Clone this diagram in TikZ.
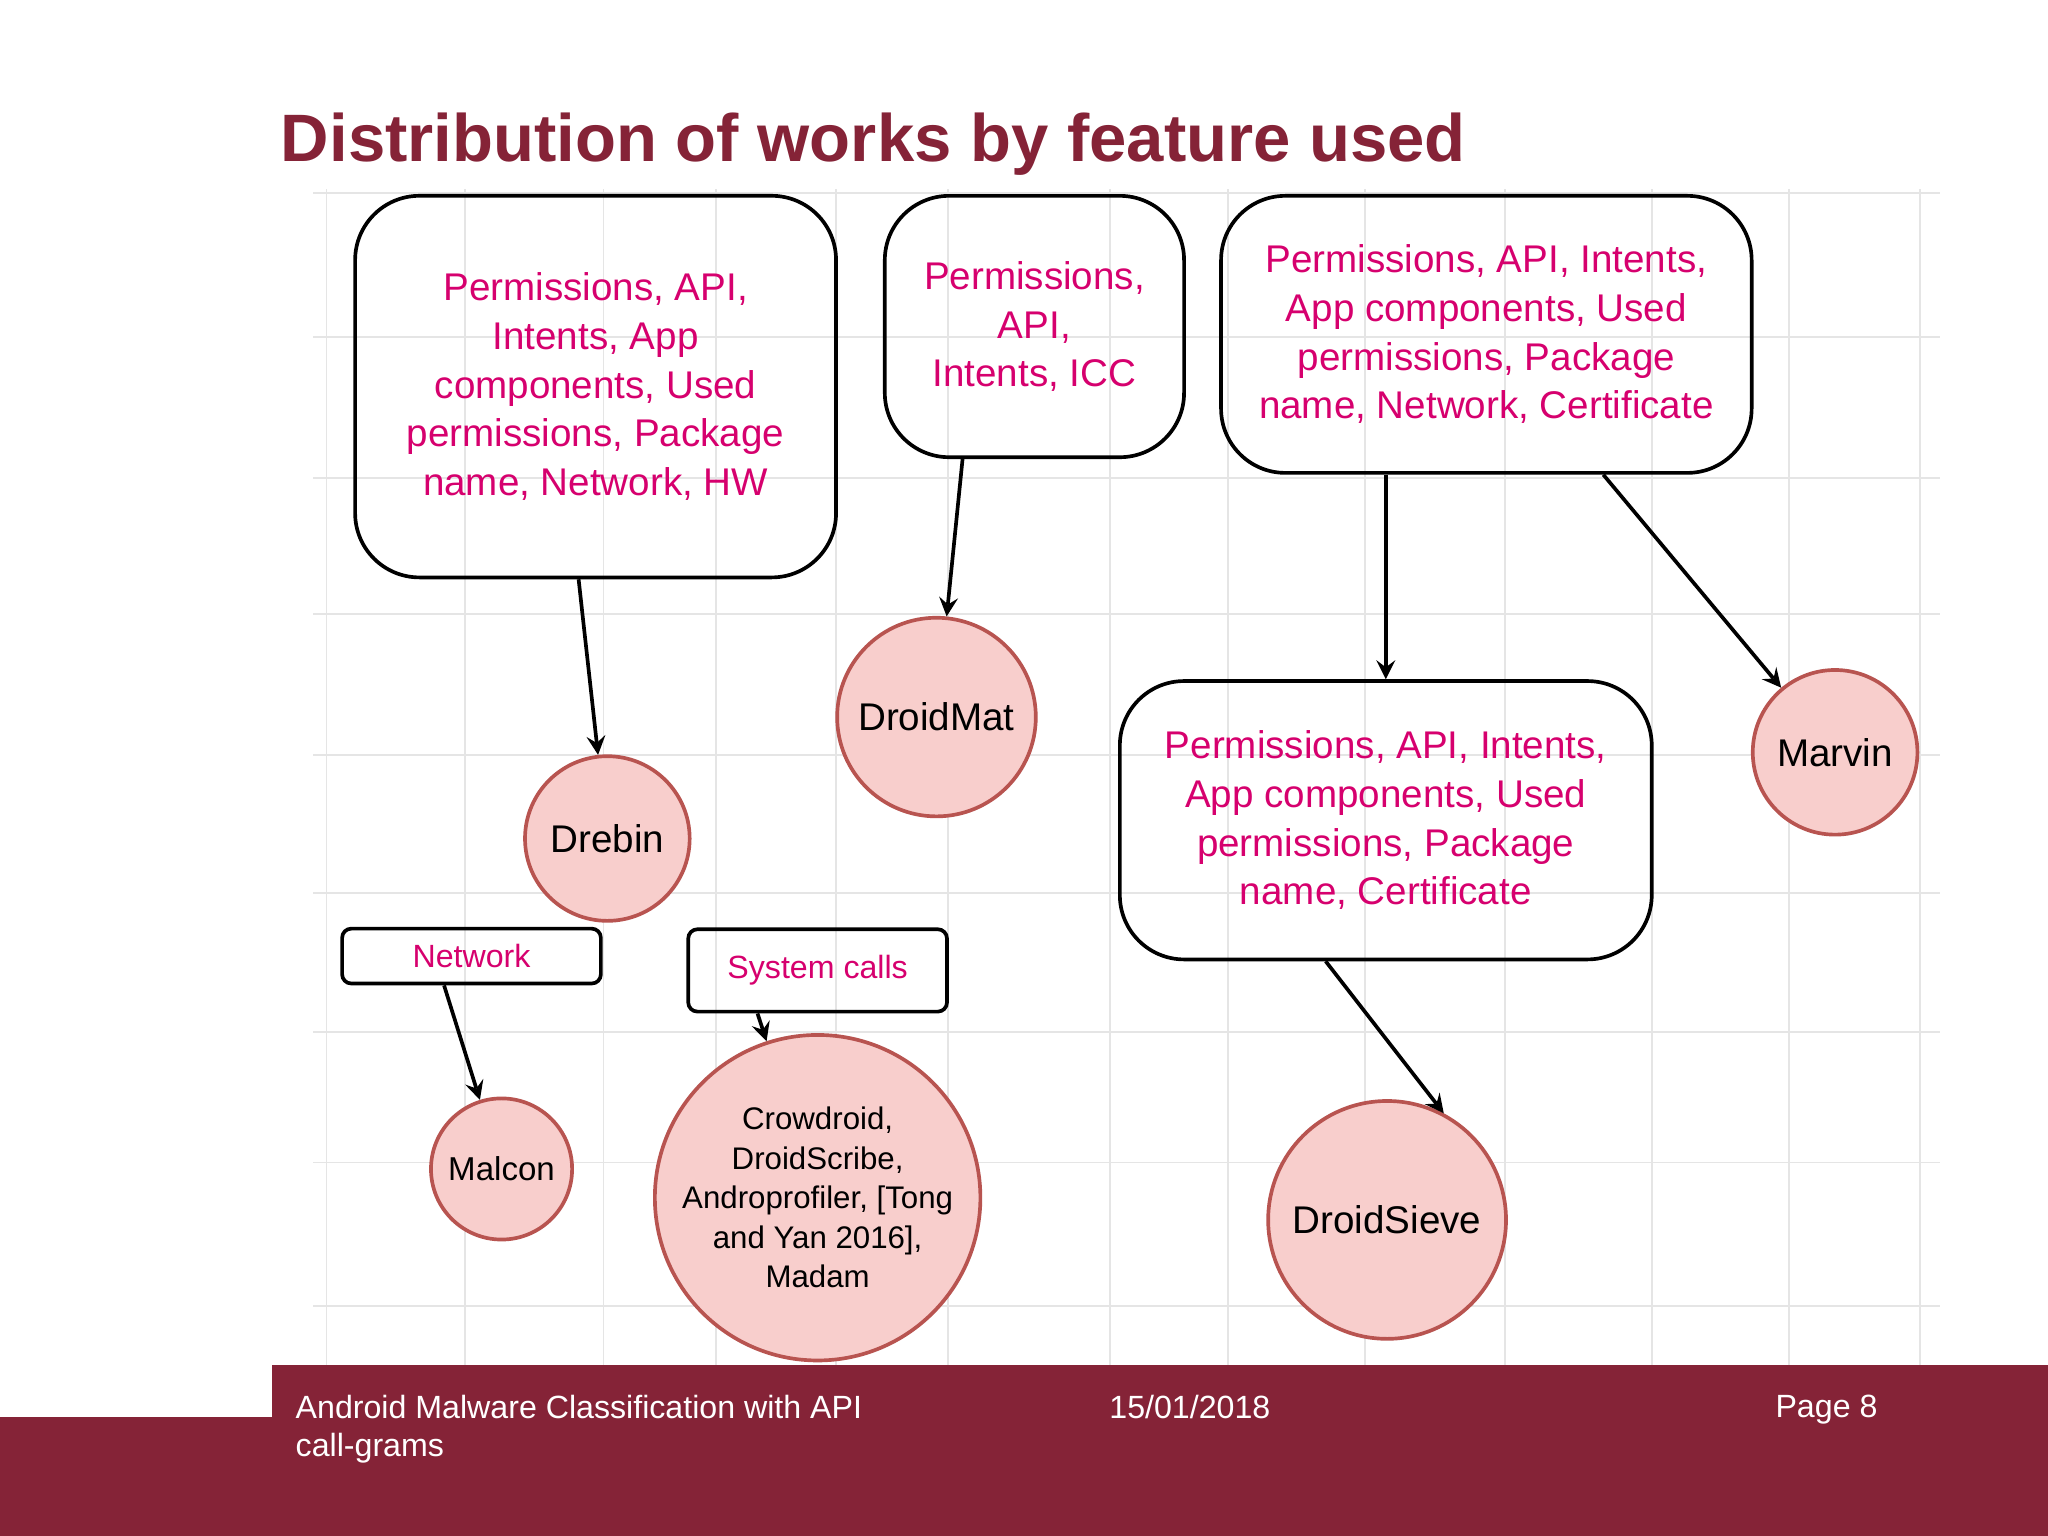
\documentclass[tikz,border=0pt]{standalone}
\usepackage{fontspec}
\setmainfont{Liberation Sans}
\usetikzlibrary{positioning,arrows}
\definecolor{wine}{RGB}{133,35,55}
\definecolor{feat}{RGB}{214,0,110}
\definecolor{pinkfill}{RGB}{248,206,204}
\definecolor{pinkdraw}{RGB}{184,84,80}
\tikzstyle{box}=[draw, thick, rounded corners=14pt, text=feat, align=center, font=\fontsize{8.4}{10.6}\selectfont, inner sep=0pt]
\tikzstyle{tag}=[draw, thick, rounded corners=2pt, text=feat, font=\fontsize{7}{8}\selectfont, inner sep=0pt]
\tikzstyle{work}=[draw=pinkdraw, fill=pinkfill, circle, inner sep=0pt, align=center, font=\fontsize{8.4}{10}\selectfont]

\begin{document}
\begin{tikzpicture}[x=0.01cm, y=-0.01cm, thick]
	\useasboundingbox (0,0) rectangle (1568,1176);
	\fill[white] (0,0) rectangle (1568,1176);
	\foreach \gx in {250,356,462,548,640,726,850,940,1045,1152,1265,1370,1470}
		\draw[black!10, thin] (\gx,145) -- (\gx,1045);
	\foreach \gy in {148,258,366,470,578,684,790,890,1000}
		\draw[black!10, thin] (240,\gy) -- (1485,\gy);
	\node[anchor=west, text=wine, font=\fontsize{14.6}{18}\bfseries\selectfont] (title) at (202,110) {Distribution of works by feature used};
	% boxes of features
	\node[box, minimum width=3.68cm, minimum height=2.92cm] (B1) at (456,296) {Permissions, API,\\Intents, App\\components, Used\\permissions, Package\\name, Network, HW};
	\node[box, minimum width=2.29cm, minimum height=2cm] (B2) at (792,250) {Permissions,\\API,\\Intents, ICC};
	\node[box, minimum width=4.06cm, minimum height=2.12cm] (B3) at (1138,256) {Permissions, API, Intents,\\App components, Used\\permissions, Package\\name, Network, Certificate};
	\node[box, minimum width=4.07cm, minimum height=2.13cm] (B4) at (1061,628) {Permissions, API, Intents,\\App components, Used\\permissions, Package\\name, Certificate};
	\node[tag, minimum width=1.98cm, minimum height=0.42cm] (N) at (361,732) {Network};
	\node[tag, minimum width=1.98cm, minimum height=0.63cm] (S) at (626,743) {System calls};
	% works
	\node[work, minimum size=1.26cm] (Drebin) at (465,642) {Drebin};
	\node[work, minimum size=1.52cm] (DroidMat) at (717,549) {DroidMat};
	\node[work, minimum size=1.26cm] (Marvin) at (1405,576) {Marvin};
	\node[work, minimum size=1.08cm, font=\fontsize{7.2}{8}\selectfont] (Malcon) at (384,895) {Malcon};
	\node[work, minimum size=2.36cm, font=\fontsize{6.8}{8.6}\selectfont] (Crowd) at (626,917) {Crowdroid,\\DroidScribe,\\Androprofiler, [Tong\\and Yan 2016],\\Madam};
	\node[work, minimum size=1.82cm] (Sieve) at (1062,934) {DroidSieve};
	\draw[->,>=stealth] ([xshift=-0.13cm]B1.south) -- (Drebin);
	\draw[->,>=stealth] ([xshift=-0.55cm]B2.south) -- (DroidMat);
	\draw[->,>=stealth] (B4.north |- B3.south) -- (B4.north);
	\draw[->,>=stealth] (B3) -- (Marvin);
	\draw[->,>=stealth] ([xshift=-0.21cm]N.south) -- (Malcon);
	\draw[->,>=stealth] ([xshift=-0.46cm]S.south) -- (Crowd);
	\draw[->,>=stealth] ([xshift=-0.46cm]B4.south) -- (Sieve.62);
	% footer
	\fill[wine] (208,1045) rectangle (1568,1176);
	\fill[wine] (0,1085) rectangle (208,1176);
	\node[anchor=north west, text=white, align=left, font=\fontsize{7}{8.2}\selectfont, inner sep=0pt] (foot) at (225,1067) {Android Malware Classification with API\\call-grams};
	\node[anchor=north west, text=white, font=\fontsize{7}{8.2}\selectfont, inner sep=0pt] (date) at (848,1067) {15/01/2018};
	\node[anchor=north west, text=white, font=\fontsize{7}{8.2}\selectfont, inner sep=0pt] (page) at (1358,1067) {Page 8};
\end{tikzpicture}
\end{document}
